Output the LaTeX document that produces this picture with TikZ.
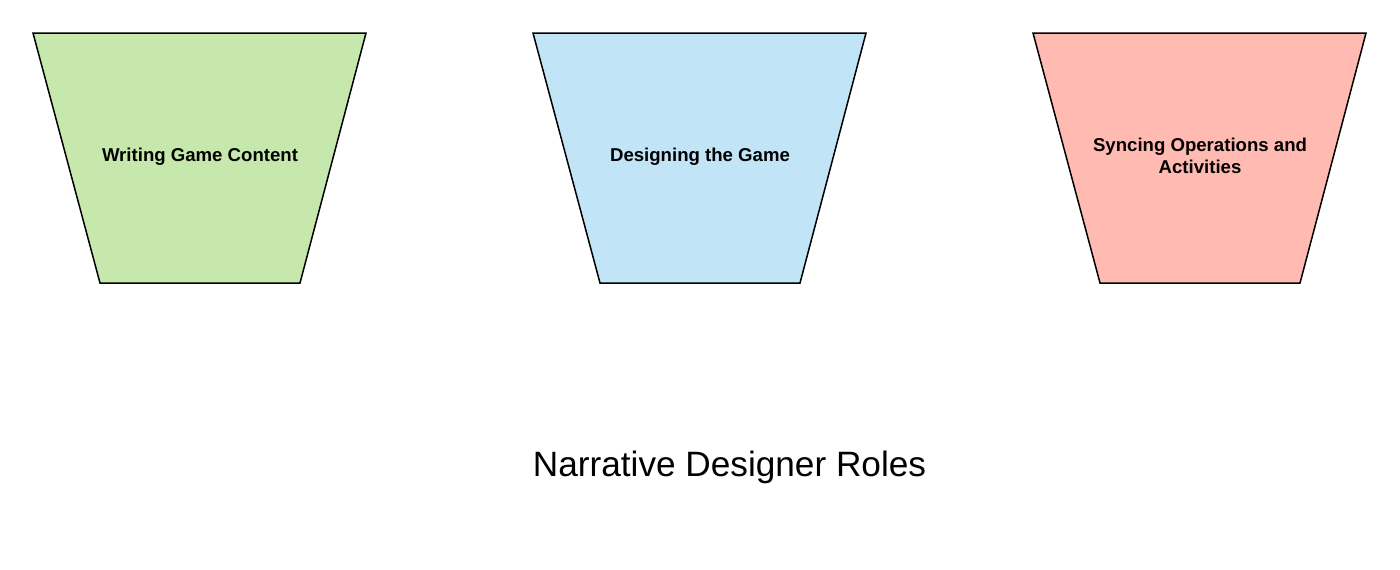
\documentclass[tikz,border=0pt]{standalone}
\usepackage{fontspec}
\setmainfont{Liberation Sans}
\definecolor{fgreen}{HTML}{C7E8AC}
\definecolor{fblue}{HTML}{C1E4F7}
\definecolor{fred}{HTML}{FFBBB1}
\begin{document}
\begin{tikzpicture}[x=0.5pt,y=-0.5pt,
  funnel/.style={draw=black,line width=0.75pt,line join=miter},
  lbl/.style={font=\fontsize{9.3}{11.3}\selectfont\bfseries,align=center,inner sep=0pt},
  ttl/.style={font=\fontsize{17.6}{21}\selectfont,inner sep=0pt}]
\useasboundingbox (0,0) rectangle (1400,569);
\fill[white] (0,0) rectangle (1400,569);
\foreach \dx/\col in {0/fgreen,500/fblue,1000/fred}{
  \draw[funnel,fill=\col] (33+\dx,33) -- (366+\dx,33) -- (300+\dx,283) -- (100+\dx,283) -- cycle;
}
\node[lbl] (a) at (200,157) {Writing Game Content};
\node[lbl] (b) at (700,157) {Designing the Game};
\node[lbl] (c) at (1200,156) {Syncing Operations and\\Activities};
\node[ttl] (t) at (729.5,467) {Narrative Designer Roles};
\end{tikzpicture}
\end{document}
